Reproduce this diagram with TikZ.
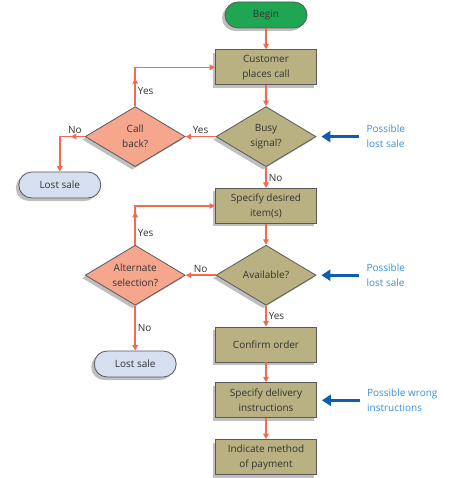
\documentclass[tikz,border=0pt]{standalone}
\usepackage{fontspec}
\setmainfont{Open Sans}
\usetikzlibrary{arrows.meta,positioning,shapes.geometric,shadows,decorations.markings}
\definecolor{boxfill}{HTML}{B9B181}
\definecolor{altfill}{HTML}{F5A68D}
\definecolor{termfill}{HTML}{1EA653}
\definecolor{lostfill}{HTML}{D5DFEF}
\definecolor{flowred}{HTML}{F26A4F}
\definecolor{warnblue}{HTML}{0B5FAE}
\definecolor{noteblue}{HTML}{3C8FD6}
\definecolor{txt}{HTML}{333333}
\tikzset{
	%every node/.style={font=\small},
	chart/.style={
		font=\fontsize{10}{15}\selectfont,
		text=txt,
		node distance=21pt and 30pt,
		shade/.style={drop shadow={shadow xshift=-3pt,shadow yshift=-3pt,opacity=.25,fill=black}},
		proc/.style={draw=black!65,line width=.8pt,fill=boxfill,shade,
			minimum width=101pt,minimum height=35pt,align=center,inner sep=2pt},
		dec/.style={diamond,draw=black!65,line width=.8pt,fill=boxfill,shade,
			minimum width=100pt,minimum height=60pt,aspect=1.67,align=center,inner sep=1pt},
		alt/.style={dec,fill=altfill},
		term/.style={draw=black!65,line width=.8pt,rounded corners=13pt,shade,
			minimum width=82pt,minimum height=26pt},
		flow/.style={color=flowred,line width=1.5pt,-{Triangle[length=5.5pt,width=5.5pt]}},
		mid/.style={postaction={decorate,decoration={markings,
			mark=at position ##1 with {\arrow{Triangle[length=5.5pt,width=5.5pt]}}}}},
		lab/.style={text=txt,inner sep=2pt},
		note/.style={text=noteblue,align=left,inner sep=0pt},
		warn/.style={color=warnblue,line width=3pt,-{Triangle[length=9pt,width=11pt]},
			shorten <=7pt,shorten >=5pt}
	}
}

\begin{document}
\begin{tikzpicture}[chart]
   \useasboundingbox (0,0) rectangle (474pt,-478pt);
   \node[term,fill=termfill] (begin) at (266pt,-15pt) {Begin};
   \node[proc, below=21pt of begin] (cust) {Customer\\places call};
   \node[dec, below=of cust] (busy) {Busy\\signal?};
   \node[alt, left=of busy] (cb) {Call\\back?};
   \node[term,fill=lostfill, below=35pt of cb.west, xshift=-25pt] (lost1) {Lost sale};
   \node[proc, below=of busy] (spec) {Specify desired\\item(s)};
   \node[dec, below=of spec] (avail) {Available?};
   \node[alt, left=of avail] (altsel) {Alternate\\selection?};
   \node[term,fill=lostfill, below=45pt of altsel] (lost2) {Lost sale};
   \node[proc, below=of avail] (conf) {Confirm order};
   \node[proc, below=20pt of conf] (deliv) {Specify delivery\\instructions};
   \node[proc, below=of deliv] (pay) {Indicate method\\of payment};

   \node[note, right=50pt of busy] (n1) {Possible\\lost sale};
   \node[note, right=50pt of avail] (n2) {Possible\\lost sale};
   \node[note, right=50pt of deliv] (n3) {Possible wrong\\instructions};

   \draw[flow] (begin) -- (cust);
   \draw[flow] (cust) -- (busy);
   \draw[flow] (busy) -- node[lab,above]{Yes} (cb);
   \draw[flow,mid=28pt] (cb.north) |- node[lab,right,pos=.2]{Yes} (cust.west);
   \draw[flow,mid=14pt] (cb.west) -| node[lab,above,pos=.2]{No} (lost1.north);
   \draw[flow] (busy) -- node[lab,right]{No} (spec);
   \draw[flow] (spec) -- (avail);
   \draw[flow] (avail) -- node[lab,above]{No} (altsel);
   \draw[flow,mid=33pt] (altsel.north) |- node[lab,right,pos=.15]{Yes} (spec.west);
   \draw[flow] (altsel) -- node[lab,right]{No} (lost2);
   \draw[flow] (avail) -- node[lab,right]{Yes} (conf);
   \draw[flow] (conf) -- (deliv);
   \draw[flow] (deliv) -- (pay);

   \draw[warn] (n1.west) -- (busy.east);
   \draw[warn] (n2.west) -- (avail.east);
   \draw[warn] (n3.west) -- (deliv.east);
\end{tikzpicture}
\end{document}
